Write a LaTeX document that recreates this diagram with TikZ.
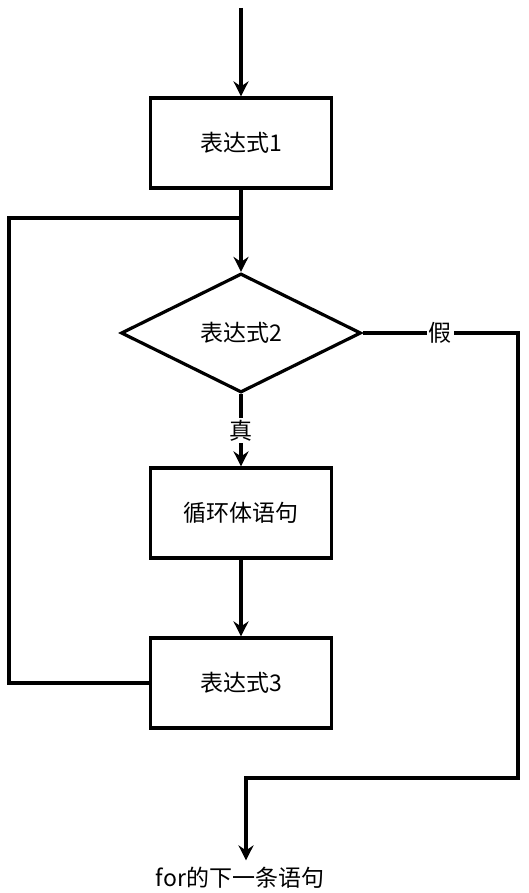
\documentclass[tikz,border=0pt]{standalone}
\usepackage{fontspec}
\setmainfont{Noto Sans CJK SC}
\usetikzlibrary{shapes.geometric,arrows.meta}

\tikzset{
	flow/.style={line width=3.2pt},
	arr/.style={flow,-{Stealth[length=15pt,width=15pt,inset=5pt]}},
	stepbox/.style={draw,flow,rectangle,minimum width=181pt,minimum height=90pt,inner sep=0pt},
	testbox/.style={draw,flow,diamond,aspect=2,minimum width=240pt,minimum height=119pt,inner sep=0pt},
	lbl/.style={fill=white,inner sep=2pt}
}

\begin{document}
\begin{tikzpicture}[x=1pt,y=-1pt,font=\fontsize{23}{27}\selectfont]
	\useasboundingbox (0,0) rectangle (528,893);
	% nodes
	\coordinate (start) at (241,8);
	\node[stepbox] (e1) at (241,143) {表达式1};
	\coordinate (join) at (241,218);
	\node[testbox] (e2) at (241,333) {表达式2};
	\node[stepbox] (body) at (241,513) {循环体语句};
	\node[stepbox] (e3) at (241,683) {表达式3};
	\node[anchor=base,inner sep=6pt] (next) at (240,886) {for的下一条语句};
	% corners of the two loops
	\coordinate (loopbl) at (9,683);
	\coordinate (looptl) at (9,218);
	\coordinate (falsetr) at (518,333);
	\coordinate (falsebr) at (518,778);
	\coordinate (exit) at (246,778);
	% connectors
	\draw[arr] (start) -- (e1);
	\draw[arr] (e1) -- (join) -- (e2);
	\draw[arr] (e2) -- node[lbl] {真} (body);
	\draw[arr] (body) -- (e3);
	\draw[flow] (e3.west) -- (loopbl) -- (looptl) -- (join);
	\draw[arr] (e2.east) -- node[lbl] {假} (falsetr) -- (falsebr) -- (exit) -- (exit |- next.north);
\end{tikzpicture}
\end{document}
